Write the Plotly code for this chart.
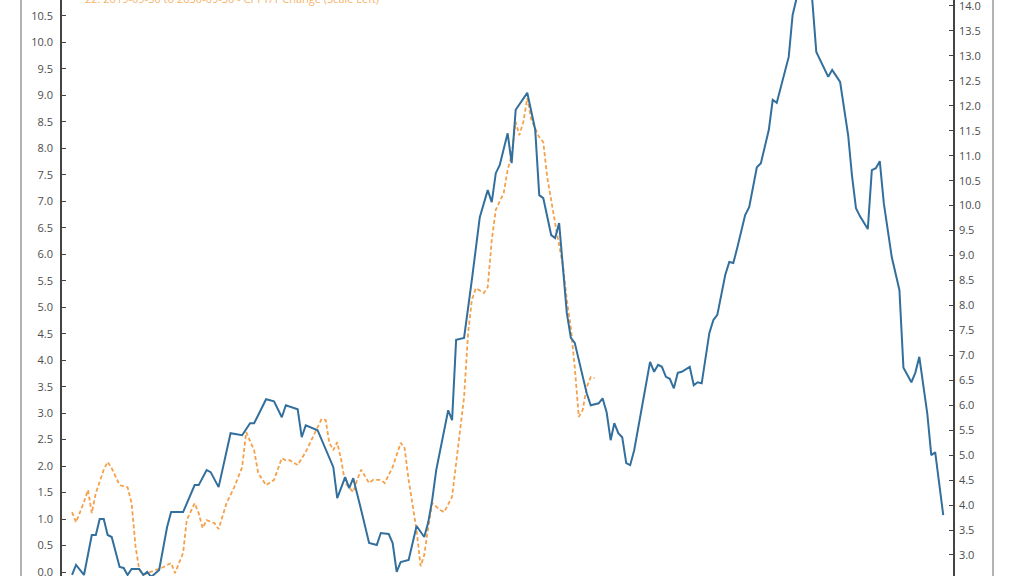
import pandas as pd
import plotly.graph_objects as go

# month offsets from 2019-09-30 and values
start = pd.Timestamp("2019-09-30")

blue_month = [0, 1, 3, 5, 6, 7, 8, 9, 10, 12, 13, 14, 15, 17, 18, 19, 20, 22, 24, 25,
              28, 31, 32, 34, 35, 37, 40, 43, 45, 46, 47, 49, 51, 53, 54, 57, 58, 59, 62, 64,
              66, 67, 69, 70, 71, 73, 75, 77, 78, 80, 81, 82, 83, 85, 87, 89, 90, 91, 92, 95,
              96, 97, 99, 101, 103, 105, 106, 107, 108, 110, 111, 112, 113, 115, 117, 118, 119, 121, 122, 123,
              125, 126, 127, 130, 131, 133, 134, 135, 136, 137, 138, 139, 140, 141, 142, 144, 146, 147, 148, 149,
              150, 151, 152, 153, 154, 156, 157, 158, 159, 161, 162, 163, 165, 166, 167, 168, 170, 171, 173, 174,
              176, 177, 178, 181, 182, 183, 185, 187, 188, 191, 192, 194, 196, 197, 198, 199, 200, 201, 202, 203,
              204, 205, 207, 209, 210, 212, 213, 214, 216, 217, 218, 220]
blue_vals = [2.60, 2.80, 2.60, 3.40, 3.40, 3.72, 3.72, 3.40, 3.36, 2.76, 2.74, 2.60, 2.72, 2.72, 2.60, 2.66, 2.56, 2.70, 3.56, 3.86,
             3.86, 4.40, 4.40, 4.70, 4.66, 4.36, 5.44, 5.40, 5.64, 5.64, 5.80, 6.12, 6.08, 5.76, 6.00, 5.92, 5.36, 5.60, 5.50, 5.10,
             4.76, 4.14, 4.56, 4.34, 4.54, 3.90, 3.24, 3.20, 3.44, 3.42, 3.24, 2.66, 2.86, 2.90, 3.58, 3.36, 3.66, 4.10, 4.70, 5.90,
             5.70, 7.31, 7.35, 8.51, 9.77, 10.31, 10.07, 10.65, 10.81, 11.45, 10.85, 11.92, 12.02, 12.26, 11.52, 10.21, 10.15, 9.41, 9.35, 9.65,
             7.85, 7.35, 7.25, 6.24, 6.00, 6.04, 6.14, 5.86, 5.30, 5.64, 5.44, 5.36, 4.84, 4.80, 5.10, 6.00, 6.87, 6.67, 6.81, 6.77,
             6.57, 6.53, 6.34, 6.65, 6.67, 6.77, 6.40, 6.46, 6.44, 7.45, 7.71, 7.81, 8.61, 8.87, 8.85, 9.15, 9.81, 9.97, 10.77, 10.85,
             11.52, 12.12, 12.06, 12.98, 13.82, 14.16, 14.36, 14.12, 13.08, 12.58, 12.72, 12.48, 11.41, 10.61, 9.95, 9.79, 9.67, 9.53, 10.71, 10.75,
             10.89, 10.05, 8.97, 8.31, 6.75, 6.46, 6.65, 6.97, 5.84, 5.00, 5.06, 3.80]

cpi_month = [0, 1, 3, 4, 5, 6, 8, 9, 10, 12, 14, 15, 16, 17, 18, 21, 23, 25, 26, 28,
             29, 31, 32, 33, 34, 36, 37, 39, 41, 43, 44, 46, 47, 49, 51, 53, 54, 55, 57, 59,
             61, 63, 64, 65, 66, 67, 68, 69, 71, 72, 73, 75, 76, 78, 79, 81, 83, 84, 85, 87,
             88, 89, 90, 91, 93, 94, 96, 97, 99, 100, 101, 102, 104, 105, 106, 107, 109, 110, 111, 112,
             113, 114, 115, 116, 118, 119, 120, 122, 124, 125, 126, 127, 128, 129, 130, 131, 132]
cpi_vals = [1.13, 0.94, 1.32, 1.55, 1.11, 1.49, 1.93, 2.08, 1.96, 1.64, 1.60, 1.30, 0.47, 0.04, -0.05, 0.04, 0.09, 0.17, -0.02, 0.36,
            0.98, 1.30, 1.11, 0.83, 0.98, 0.92, 0.81, 1.30, 1.60, 1.98, 2.64, 2.30, 1.87, 1.64, 1.74, 2.15, 2.11, 2.11, 2.02, 2.27,
            2.59, 2.89, 2.87, 2.44, 2.30, 2.45, 2.11, 1.68, 1.51, 1.74, 1.93, 1.68, 1.74, 1.74, 1.68, 1.98, 2.44, 2.34, 1.74, 0.79,
            0.11, 0.32, 0.85, 1.30, 1.17, 1.13, 1.42, 2.06, 3.30, 4.51, 5.14, 5.36, 5.27, 5.38, 6.27, 6.84, 7.16, 7.59, 7.87, 8.50,
            8.25, 8.50, 8.95, 8.54, 8.21, 8.12, 7.46, 6.59, 5.76, 5.14, 4.61, 3.87, 2.93, 3.06, 3.49, 3.68, 3.66]

left_ticks = [i * 0.5 for i in range(22)]        # 0.0 .. 10.5
right_ticks = [2.5 + i * 0.5 for i in range(24)]   # 2.5 .. 14.0

legend_text = "22: 2019-09-30 to 2030-09-30 - CPI Y/Y Change (Scale Left)"

blue_dates = [start + pd.offsets.MonthEnd(m) for m in blue_month]
cpi_dates = [start + pd.offsets.MonthEnd(m) for m in cpi_month]

fig = go.Figure()
fig.add_trace(go.Scatter(x=cpi_dates, y=cpi_vals, mode="lines", yaxis="y",
                         line=dict(color="#f5a04a", width=1.8, dash="4px,2.5px")))
fig.add_trace(go.Scatter(x=blue_dates, y=blue_vals, mode="lines", yaxis="y2",
                         line=dict(color="#336f9c", width=2)))

axis_font = dict(family="Open Sans, Lato, sans-serif", size=11, color="#4d4d4d")

fig.update_layout(
    width=1024, height=576,
    margin=dict(l=62, r=71, t=0, b=0, autoexpand=False),
    plot_bgcolor="white", paper_bgcolor="white",
    showlegend=False,
    xaxis=dict(visible=False,
               range=[start - pd.Timedelta(days=77), start + pd.Timedelta(days=6773)]),
    yaxis=dict(range=[-0.0755, 10.802], tickvals=left_ticks,
               ticktext=[f"{v:.1f}" for v in left_ticks],
               showgrid=False, zeroline=False, showline=True, linecolor="#444444", linewidth=1.5,
               ticks="inside", ticklen=4, tickcolor="#444444", tickfont=axis_font,
               ticklabeloverflow="allow", ticklabelstandoff=5, automargin=False),
    yaxis2=dict(range=[2.579, 14.12], overlaying="y", side="right", tickvals=right_ticks,
                ticktext=[f"{v:.1f}" for v in right_ticks],
                showgrid=False, zeroline=False, showline=True, linecolor="#444444", linewidth=1.5,
                ticks="inside", ticklen=4, tickcolor="#444444", tickfont=axis_font,
                ticklabeloverflow="allow", ticklabelstandoff=2, automargin=False),
    shapes=[
        dict(type="line", xref="paper", yref="paper", x0=-0.046, x1=-0.046, y0=0, y1=1,
             line=dict(color="#9a9a9a", width=1.5)),
        dict(type="line", xref="paper", yref="paper", x0=1.0449, x1=1.0449, y0=0, y1=1,
             line=dict(color="#9a9a9a", width=1.5)),
    ],
    annotations=[
        dict(text=legend_text, xref="paper", yref="paper", x=0.0236, y=1, xanchor="left",
             yanchor="middle", yshift=2, showarrow=False,
             font=dict(family="Open Sans, Lato, sans-serif", size=11, color="#f7b36b")),
    ],
)

# page body has a default 8px margin; drop it so the figure sits at the window corner
fig.write_html("out.html", config={"displayModeBar": False},
               post_script="document.body.style.margin='0';")
